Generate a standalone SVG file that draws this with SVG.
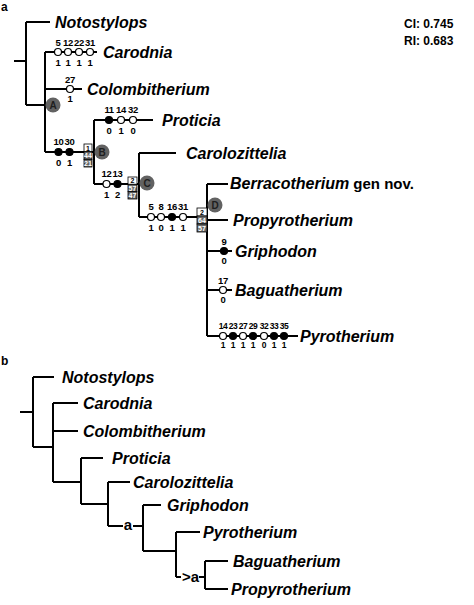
<svg xmlns="http://www.w3.org/2000/svg" width="474" height="605" viewBox="0 0 474 605">
<style>
.br{stroke:#000;stroke-width:2;fill:none}
.t{font-family:"Liberation Sans",Arial,sans-serif;font-weight:bold;font-style:italic;font-size:16px;fill:#000}
.p{font-family:"Liberation Sans",Arial,sans-serif;font-weight:bold;font-size:12px;fill:#000}
.n{font-family:"Liberation Sans",Arial,sans-serif;font-weight:bold;font-size:9.5px;letter-spacing:-0.4px;text-anchor:middle;fill:#000}
.s{font-size:8.5px}
.o{fill:#fff;stroke:#000;stroke-width:1.2}
.f{fill:#000;stroke:#000;stroke-width:1.2}
.nc{fill:#626262}
.nl{font-family:"Liberation Sans",Arial,sans-serif;font-weight:bold;font-size:10px;text-anchor:middle;fill:#1e1e1e}
.c1{fill:#fff;stroke:#000;stroke-width:0.8}
.c2{fill:#6a6a6a;stroke:#000;stroke-width:0.8}
.bt{font-family:"Liberation Sans",Arial,sans-serif;font-weight:bold;font-size:7px;text-anchor:middle}
</style>
<text class="p" x="1" y="11">a</text>
<text class="p" x="1" y="365">b</text>
<text class="p" x="404" y="28">CI: 0.745</text>
<text class="p" x="404" y="45">RI: 0.683</text>
<g id="connectors">
<path class="br" d="M14,61H26M26,22V105M26,22H50M26,105H45M45,52V152M45,52H97M45,89H82M45,152H94M94,120V184M94,120H153M94,184H139M139,153V217M139,153H176M139,217H207M207,184V336M207,184H228M207,220H228M207,251H232M207,290H232M207,336H298"/>
<path class="br" d="M20,412H33M33,377V447M33,377H54M33,447H53M53,403V482M53,403H78M53,431H78M53,482H81M81,458V504M81,458H103M81,504H108M108,482V526M108,482H130M108,526H123M133,526H143M143,505V551M143,505H161M143,551H176M176,532V577M176,532H200M176,577H181M199,577H205M205,561V589M205,561H228M205,589H228"/>
</g>
<g id="characters">
<circle class="o" cx="58" cy="52" r="3.5"/><circle class="o" cx="68" cy="52" r="3.5"/><circle class="o" cx="79" cy="52" r="3.5"/><circle class="o" cx="90" cy="52" r="3.5"/>
<text class="n" x="58" y="46">5</text><text class="n" x="68" y="46">12</text><text class="n" x="79" y="46">22</text><text class="n" x="90" y="46">31</text>
<text class="n" x="58" y="66">1</text><text class="n" x="68" y="66">1</text><text class="n" x="79" y="66">1</text><text class="n" x="90" y="66">1</text>
<circle class="o" cx="70" cy="89" r="3.5"/>
<text class="n" x="70" y="83">27</text><text class="n" x="70" y="102">1</text>
<circle class="f" cx="58.5" cy="152" r="3.5"/><circle class="f" cx="69.5" cy="152" r="3.5"/>
<text class="n" x="58.5" y="145">10</text><text class="n" x="69.5" y="145">30</text>
<text class="n" x="58.5" y="166">0</text><text class="n" x="69.5" y="166">1</text>
<circle class="f" cx="109" cy="120" r="3.5"/><circle class="o" cx="121" cy="120" r="3.5"/><circle class="o" cx="133" cy="120" r="3.5"/>
<text class="n" x="109" y="113">11</text><text class="n" x="121" y="113">14</text><text class="n" x="133" y="113">32</text>
<text class="n" x="109" y="134">0</text><text class="n" x="121" y="134">1</text><text class="n" x="133" y="134">0</text>
<circle class="o" cx="106.5" cy="184" r="3.5"/><circle class="f" cx="117.5" cy="184" r="3.5"/>
<text class="n" x="106.5" y="177">12</text><text class="n" x="117.5" y="177">13</text>
<text class="n" x="106.5" y="198">1</text><text class="n" x="117.5" y="198">2</text>
<circle class="o" cx="151" cy="217" r="3.5"/><circle class="o" cx="161" cy="217" r="3.5"/><circle class="f" cx="172" cy="217" r="3.5"/><circle class="o" cx="183" cy="217" r="3.5"/>
<text class="n" x="151" y="210">5</text><text class="n" x="161" y="210">8</text><text class="n" x="172" y="210">16</text><text class="n" x="183" y="210">31</text>
<text class="n" x="151" y="231">1</text><text class="n" x="161" y="231">0</text><text class="n" x="172" y="231">1</text><text class="n" x="183" y="231">1</text>
<circle class="f" cx="224" cy="251" r="3.5"/>
<text class="n" x="224" y="245">9</text><text class="n" x="224" y="264">0</text>
<circle class="o" cx="223" cy="290" r="3.5"/>
<text class="n" x="223" y="284">17</text><text class="n" x="223" y="303">0</text>
<circle class="o" cx="223" cy="336" r="3.5"/><circle class="f" cx="233" cy="336" r="3.5"/><circle class="o" cx="243" cy="336" r="3.5"/><circle class="f" cx="253" cy="336" r="3.5"/><circle class="o" cx="264" cy="336" r="3.5"/><circle class="f" cx="274" cy="336" r="3.5"/><circle class="f" cx="284" cy="336" r="3.5"/>
<text class="n s" x="223" y="329">14</text><text class="n s" x="233" y="329">23</text><text class="n s" x="243" y="329">27</text><text class="n s" x="253" y="329">29</text><text class="n s" x="264" y="329">32</text><text class="n s" x="274" y="329">33</text><text class="n s" x="284" y="329">35</text>
<text class="n s" x="223" y="348">1</text><text class="n s" x="233" y="348">1</text><text class="n s" x="243" y="348">1</text><text class="n s" x="253" y="348">1</text><text class="n s" x="264" y="348">0</text><text class="n s" x="274" y="348">1</text><text class="n s" x="284" y="348">1</text>
</g>
<g id="supports">
<rect class="c1" x="84" y="144" width="8" height="7.7"/><rect class="c2" x="84" y="151.7" width="8" height="7.6"/><rect class="c2" x="84" y="159.3" width="8" height="7.7"/>
<text class="bt" x="88" y="150.5">1</text><text class="bt" x="88" y="158" fill="#fff">44</text><text class="bt" x="88" y="165.7" fill="#fff">21</text>
<rect class="c1" x="128" y="177" width="9" height="7.3"/><rect class="c2" x="128" y="184.3" width="9" height="7.4"/><rect class="c2" x="128" y="191.7" width="9" height="7.3"/>
<text class="bt" x="132.5" y="183.3">2</text><text class="bt" x="132.5" y="190.7" fill="#fff">57</text><text class="bt" x="132.5" y="198" fill="#fff">47</text>
<rect class="c1" x="197" y="208" width="10" height="8"/><rect class="c2" x="197" y="216" width="10" height="8"/><rect class="c2" x="197" y="224" width="10" height="8"/>
<text class="bt" x="202" y="214.8">2</text><text class="bt" x="202" y="222.8" fill="#fff">64</text><text class="bt" x="202" y="230.8" fill="#fff">57</text>
</g>
<g id="nodeA"><circle class="nc" cx="53" cy="105" r="7.5"/><text class="nl" x="53" y="108.6">A</text></g>
<g id="nodeB"><circle class="nc" cx="102" cy="152" r="7.5"/><text class="nl" x="102" y="155.6">B</text></g>
<g id="nodeC"><circle class="nc" cx="147" cy="183" r="7.5"/><text class="nl" x="147" y="186.6">C</text></g>
<g id="nodeD"><circle class="nc" cx="215" cy="205" r="7.5"/><text class="nl" x="215" y="208.6">D</text></g>
<g id="taxa-a">
<text class="t" x="55" y="28">Notostylops</text>
<text class="t" x="103" y="58">Carodnia</text>
<text class="t" x="87" y="95">Colombitherium</text>
<text class="t" x="162" y="126">Proticia</text>
<text class="t" x="186" y="159">Carolozittelia</text>
<text class="t" x="230" y="189">Berracotherium<tspan style="font-style:normal;font-size:15px"> gen nov.</tspan></text>
<text class="t" x="233" y="226">Propyrotherium</text>
<text class="t" x="235" y="257">Griphodon</text>
<text class="t" x="235" y="296">Baguatherium</text>
<text class="t" x="300" y="342">Pyrotherium</text>
</g>
<g id="taxa-b">
<text class="t" x="62" y="383">Notostylops</text>
<text class="t" x="83" y="409">Carodnia</text>
<text class="t" x="83" y="437">Colombitherium</text>
<text class="t" x="112" y="464">Proticia</text>
<text class="t" x="133" y="488">Carolozittelia</text>
<text class="t" x="167" y="511">Griphodon</text>
<text class="t" x="203" y="538">Pyrotherium</text>
<text class="t" x="233" y="567">Baguatherium</text>
<text class="t" x="231" y="595">Propyrotherium</text>
<text class="p" x="128" y="530" style="font-size:15px;text-anchor:middle">a</text>
<text class="p" x="182" y="582" style="font-size:15px">&gt;a</text>
</g>
</svg>
